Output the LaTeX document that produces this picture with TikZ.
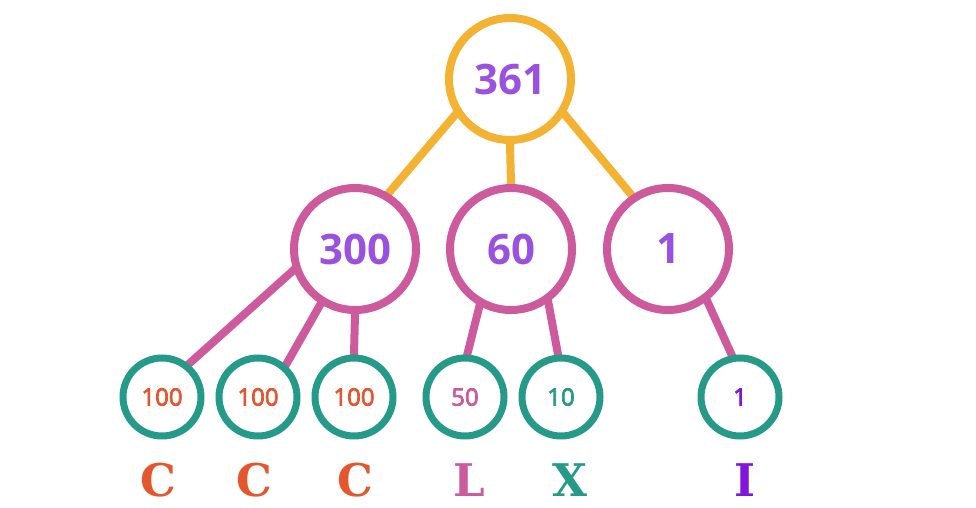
\documentclass[tikz,border=0pt]{standalone}
\usepackage{fontspec}
\setmainfont{Open Sans}
\newfontfamily\slabfont{DejaVu Serif}
\newfontfamily\leaffont[FakeBold=3]{Open Sans}
\usetikzlibrary{backgrounds}
\definecolor{goldline}{RGB}{244,178,51}
\definecolor{pinkline}{RGB}{205,90,157}
\definecolor{tealline}{RGB}{37,154,136}
\definecolor{numpurple}{RGB}{155,81,224}
\definecolor{hundred}{RGB}{228,87,46}
\definecolor{onepurple}{RGB}{128,22,220}
\tikzset{
  topnode/.style={circle, draw=goldline, line width=8pt, fill=white, minimum size=122pt,
                  inner sep=0pt, text=numpurple, font=\fontsize{42}{42}\selectfont\bfseries},
  midnode/.style={topnode, draw=pinkline},
  leafnode/.style={circle, draw=tealline, line width=7pt, fill=white, minimum size=78pt,
                   inner sep=0pt, font=\leaffont\fontsize{24}{24}\selectfont},
  numeral/.style={anchor=base, font=\slabfont\bfseries\fontsize{45}{45}\selectfont},
  goldlink/.style={draw=goldline, line width=8pt, shorten <=-6pt, shorten >=-6pt},
  pinklink/.style={goldlink, draw=pinkline}
}

\begin{document}
\begin{tikzpicture}[x=1pt, y=1pt]
\useasboundingbox (0,0) rectangle (976,507);
\node[topnode] (root) at (510,428) {361};
\node[midnode] (m300) at (355,258) {300};
\node[midnode] (m60) at (511,258) {60};
\node[midnode] (m1) at (668,258) {1};
\node[leafnode, text=hundred] (c1) at (162,110) {100};
\node[leafnode, text=hundred] (c2) at (258,110) {100};
\node[leafnode, text=hundred] (c3) at (354,110) {100};
\node[leafnode, text=pinkline] (l50) at (465,110) {50};
\node[leafnode, text=tealline] (x10) at (561,110) {10};
\node[leafnode, text=onepurple] (i1) at (740,110) {1};
\node[numeral, text=hundred] (rc1) at (158,11) {C};
\node[numeral, text=hundred] (rc2) at (254,11) {C};
\node[numeral, text=hundred] (rc3) at (355,11) {C};
\node[numeral, text=pinkline] (rl) at (469,11) {L};
\node[numeral, text=tealline] (rx) at (570,11) {X};
\node[numeral, text=onepurple] (ri) at (745,11) {I};
\begin{scope}[on background layer]
\draw[goldlink] (root.213)--(m300.59); \draw[goldlink] (root.south)--(m60.north); \draw[goldlink] (root.327)--(m1.124);
\draw[pinklink] (m300.199)--(c1.51); \draw[pinklink] (m300.238)--(c2.49); \draw[pinklink] (m300.south)--(c3.north);
\draw[pinklink] (m60.241)--(l50.87); \draw[pinklink] (m60.305)--(x10.94); \draw[pinklink] (m1.307)--(i1.101);
\end{scope}
\end{tikzpicture}
\end{document}
